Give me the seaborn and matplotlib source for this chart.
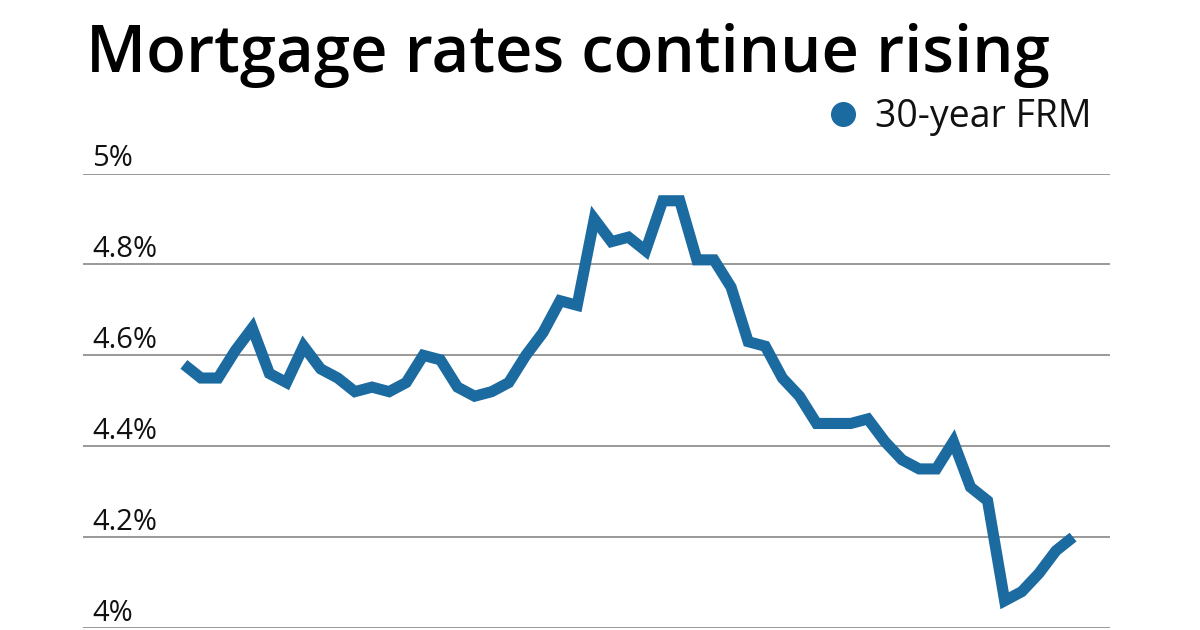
import numpy as np
import pandas as pd
import seaborn as sns
import matplotlib.pyplot as plt
from matplotlib.lines import Line2D
from matplotlib.transforms import blended_transform_factory

# Weekly 30-year fixed rate
week = list(range(53))
rate = [4.58, 4.55, 4.55, 4.61, 4.66, 4.56, 4.54, 4.62, 4.57, 4.55,
        4.52, 4.53, 4.52, 4.54, 4.60, 4.59, 4.53, 4.51, 4.52, 4.54,
        4.60, 4.65, 4.72, 4.71, 4.90, 4.85, 4.86, 4.83, 4.94, 4.94,
        4.81, 4.81, 4.75, 4.63, 4.62, 4.55, 4.51, 4.45, 4.45, 4.45,
        4.46, 4.41, 4.37, 4.35, 4.35, 4.41, 4.31, 4.28, 4.06, 4.08,
        4.12, 4.17, 4.20]
y_ticks = [4.0, 4.2, 4.4, 4.6, 4.8, 5.0]
y_labels = ['4%', '4.2%', '4.4%', '4.6%', '4.8%', '5%']

df = pd.DataFrame({'week': week, 'rate': rate})

sns.set_style('white')
plt.rcParams['font.family'] = ['Open Sans', 'DejaVu Sans']

blue = '#1b6aa0'
W, H = 1200, 630
fig = plt.figure(figsize=(12, 6.3), dpi=100)
ax = fig.add_axes([83 / W, 1 - 628 / H, (1110 - 83) / W, (628 - 173.5) / H])

sns.lineplot(data=df, x='week', y='rate', ax=ax, color=blue, linewidth=8,
             solid_joinstyle='miter', solid_capstyle='butt', clip_on=False)

ax.set_xlim(-5.9, 54.16)
ax.set_ylim(4, 5)
ax.set_yticks(y_ticks)
ax.set_xticks([])
ax.set_yticklabels([])
ax.tick_params(left=False)
ax.grid(axis='y', color='#999999', linewidth=1.4)
ax.set_axisbelow(True)
for s in ax.spines.values():
    s.set_visible(False)
ax.set_xlabel('')
ax.set_ylabel('')

# labels sit just above their gridline
trans = blended_transform_factory(ax.transAxes, ax.transData)
for v, lab in zip(y_ticks, y_labels):
    ax.text(9 / 1027, v + 0.0155, lab, transform=trans, fontsize=21,
            ha='left', va='baseline', color='#111111')

fig.text(86 / W, 1 - 72 / H, 'Mortgage rates continue rising', fontsize=47,
         fontweight='semibold', ha='left', va='baseline', color='black')

# legend
fig.add_artist(Line2D([843 / W], [1 - 114 / H], marker='o', markersize=17,
                      color=blue, transform=fig.transFigure))
fig.text(875 / W, 1 - 127 / H, '30-year FRM', fontsize=27, ha='left',
         va='baseline', color='#111111')

fig.savefig('out.png', dpi=100)
